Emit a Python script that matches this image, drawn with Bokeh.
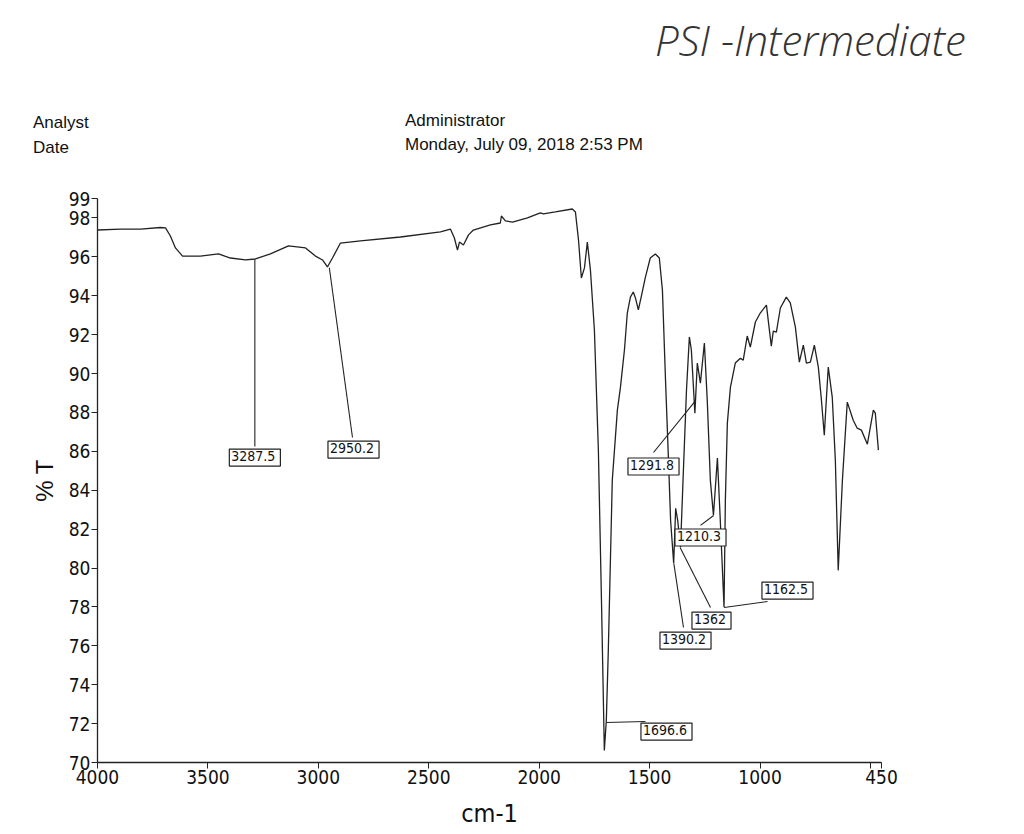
import numpy as np
from bokeh.plotting import figure
from bokeh.models import Label, FixedTicker, Range1d, Div
from bokeh.layouts import column
from bokeh.embed import file_html
from bokeh.resources import INLINE

# ---- spectrum ----
wavenumber = [4000, 3896, 3805, 3715, 3692, 3670, 3647, 3615, 3534, 3452, 3398, 3330, 3285, 3217,
              3135, 3058, 3013, 2981, 2959, 2936, 2900, 2809, 2628, 2447, 2402, 2384, 2370, 2361,
              2343, 2320, 2298, 2221, 2176, 2171, 2153, 2121, 2053, 1995, 1981, 1927, 1850, 1836,
              1822, 1809, 1795, 1782, 1768, 1750, 1732, 1718, 1705, 1696, 1687, 1669, 1646, 1632,
              1614, 1601, 1587, 1574, 1564, 1551, 1537, 1519, 1497, 1474, 1456, 1442, 1428, 1414,
              1405, 1391, 1382, 1373, 1360, 1347, 1333, 1320, 1311, 1295, 1284, 1270, 1252, 1239,
              1225, 1211, 1193, 1180, 1163, 1157, 1148, 1134, 1112, 1089, 1076, 1058, 1044, 1021,
              999, 971, 949, 940, 926, 908, 881, 863, 840, 822, 804, 790, 772, 754, 736, 722, 709,
              700, 691, 673, 659, 646, 627, 605, 578, 560, 541, 514, 487, 478, 464]
transmittance = [97.38, 97.43, 97.43, 97.51, 97.49, 97.07, 96.46, 96.04, 96.04, 96.15, 95.94, 95.84,
                 95.89, 96.15, 96.56, 96.46, 96.04, 95.84, 95.48, 95.94, 96.71, 96.82, 97.02, 97.28,
                 97.43, 96.97, 96.35, 96.76, 96.61, 97.13, 97.38, 97.64, 97.74, 98.10, 97.85, 97.79,
                 98.00, 98.26, 98.21, 98.31, 98.46, 98.31, 96.87, 94.91, 95.43, 96.76, 95.32, 92.24,
                 86.06, 78.34, 70.62, 72.16, 75.77, 84.52, 88.12, 89.30, 91.21, 93.11, 93.93, 94.19,
                 93.88, 93.27, 93.99, 94.96, 95.94, 96.15, 95.94, 94.29, 89.66, 85.39, 82.46, 80.24,
                 83.07, 82.46, 81.07, 85.03, 89.15, 91.88, 91.21, 87.96, 90.54, 89.51, 91.57, 88.63,
                 84.52, 82.71, 85.65, 82.46, 77.98, 83.49, 87.45, 89.30, 90.54, 90.79, 90.69, 91.93,
                 91.36, 92.65, 93.11, 93.52, 91.41, 92.18, 92.13, 93.37, 93.93, 93.63, 92.39, 90.59,
                 91.46, 90.54, 90.59, 91.46, 90.33, 88.63, 86.83, 88.63, 90.33, 88.79, 85.55, 79.88,
                 84.52, 88.53, 87.60, 87.19, 87.09, 86.37, 88.12, 87.96, 86.06]

# ---- peak annotations ----
peak_labels = ["3287.5", "2950.2", "1696.6", "1390.2", "1362", "1291.8", "1210.3", "1162.5"]
peak_wn = [3287.5, 2950.2, 1696.6, 1390.2, 1362.0, 1291.8, 1210.3, 1162.5]
peak_T = [95.86, 95.44, 72.06, 80.23, 81.06, 88.61, 82.70, 77.97]
# where each leader line ends, and the centre of its box
lead_wn = [3287.5, 2845.4, 1518.7, 1346.6, 1224.3, 1482.4, 1269.6, 966.2]
lead_T = [86.25, 86.71, 72.11, 76.94, 77.97, 85.94, 82.19, 78.28]
box_wn = [3287.5, 2840.8, 1423.6, 1337.5, 1219.8, 1482.4, 1269.6, 875.7]
box_T = [85.68, 86.09, 71.59, 76.27, 77.30, 85.22, 81.57, 78.84]

x_ticks = [4000, 3500, 3000, 2500, 2000, 1500, 1000, 500, 450]
y_ticks = [70, 72, 74, 76, 78, 80, 82, 84, 86, 88, 90, 92, 94, 96, 98, 99]

header_left = ["Analyst", "Date"]
header_right = ["Administrator", "Monday, July 09, 2018 2:53 PM"]
handwritten = "PSI -Intermediate"

NARROW = "DejaVu Sans Condensed"
SANS = "Liberation Sans"

# ---- header (HTML block above the plot) ----
def span(txt, left, top, size, extra=""):
    return (f'<span style="position:absolute;left:{left}px;top:{top}px;font-family:\'{SANS}\';'
            f'font-size:{size}px;line-height:1;color:#111;white-space:nowrap;{extra}">{txt}</span>')

html = '<div style="position:relative;width:1024px;height:188px;background:white;">'
html += span(handwritten, 655, 19, 42, "font-family:'Open Sans';font-style:italic;color:#333;font-weight:300;")
html += span(header_left[0], 33, 114, 17)
html += span(header_left[1], 33, 139, 17)
html += span(header_right[0], 405, 112, 17)
html += span(header_right[1], 405, 136, 17)
html += '</div>'
header = Div(text=html, width=1024, height=188, margin=0)

p = figure(width=1024, height=646, output_backend="svg", toolbar_location=None,
           x_range=Range1d(4000, 450), y_range=Range1d(70, 99),
           min_border_left=97, min_border_right=143, min_border_top=10, min_border_bottom=72,
           margin=0)
p.outline_line_color = None
p.xgrid.visible = False
p.ygrid.visible = False
p.background_fill_color = "white"
p.border_fill_color = "white"

p.line(wavenumber, transmittance, line_color="#222222", line_width=1.3)

# leader lines
p.segment(x0=peak_wn, y0=peak_T, x1=lead_wn, y1=lead_T, line_color="#222222", line_width=1.1)

for lab, bx, by in zip(peak_labels, box_wn, box_T):
    p.add_layout(Label(x=bx, y=by, text=lab, text_align="center", text_baseline="middle",
                       text_font=NARROW, text_font_size="14px", text_color="#111111",
                       background_fill_color="white", border_line_color="#222222",
                       border_line_width=1.2, padding=(2, 5, 2, 5)))

# axes
p.xaxis.ticker = FixedTicker(ticks=x_ticks)
p.xaxis.major_label_overrides = {500: ""}
p.yaxis.ticker = FixedTicker(ticks=y_ticks)
for ax in (p.xaxis[0], p.yaxis[0]):
    ax.axis_line_color = "#222222"
    ax.axis_line_width = 1.3
    ax.major_tick_line_color = "#222222"
    ax.major_tick_out = 6
    ax.major_tick_in = 0
    ax.minor_tick_line_color = None
    ax.major_label_text_font = NARROW
    ax.major_label_text_font_size = "19px"
    ax.major_label_text_color = "#111111"
    ax.axis_label_text_font = NARROW
    ax.axis_label_text_font_style = "normal"
    ax.axis_label_text_color = "#111111"
p.xaxis.axis_label = "cm-1"
p.xaxis.axis_label_text_font_size = "25px"
p.xaxis.axis_label_standoff = 12
p.xaxis.major_label_standoff = 1
p.yaxis.axis_label = "% T"
p.yaxis.axis_label_text_font = SANS
p.yaxis.axis_label_text_font_size = "24px"
p.yaxis.axis_label_standoff = 8
p.yaxis.major_label_standoff = 1

layout = column(header, p, spacing=0, margin=0)
open("out.html", "w").write(file_html(layout, INLINE))
